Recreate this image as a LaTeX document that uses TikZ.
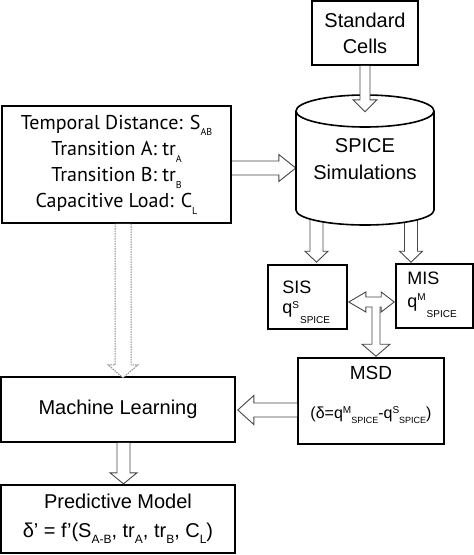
\documentclass[tikz,border=0pt]{standalone}
\usepackage{fontspec}
\setmainfont{Liberation Sans}
\newfontfamily\myr{PT Sans}
\usetikzlibrary{calc}
\pgfdeclarelayer{bg}
\pgfsetlayers{bg,main}
\newcommand\fs[2]{\fontsize{#1}{#2}\selectfont}
\newcommand\subtx[2][-6pt]{\raisebox{#1}{\fs{10}{10}#2}}
\newcommand\suptx[2][6pt]{\raisebox{#1}{\fs{10}{10}#2}}
% block arrow: [style]{from}{to}{half shaft}{half head}{head length}
\newcommand\barrow[6][arr]{%
  \path[#1] let \p1=(#2),\p2=(#3),\n1={atan2(\y2-\y1,\x2-\x1)},\n2={veclen(\x2-\x1,\y2-\y1)} in
   [shift={(\p1)},rotate=\n1]
   (0pt,#4) -- ({\n2-#6},#4) -- ({\n2-#6},#5) -- ({\n2*1pt},0pt) -- ({\n2-#6},-#5) -- ({\n2-#6},-#4) -- (0pt,-#4);}
\begin{document}
\begin{tikzpicture}[x=1pt,y=-1pt,
  box/.style={draw, line width=1.6pt, fill=white, inner sep=0pt, align=center},
  arr/.style={draw=black!72, line width=0.9pt, fill=white, line join=miter},
  dotarr/.style={draw=black!45, dash pattern=on 1.5pt off 1pt, line width=1pt, fill=white, line join=miter},
  cyl/.style={draw, line width=1.6pt, fill=white}]
\useasboundingbox (0,0) rectangle (474,555);

% boxes
\node[box, minimum width=106pt, minimum height=64pt, font=\fs{20}{26}] (std) at (365,33) {Standard\\Cells};
\node[box, minimum width=229pt, minimum height=117pt, font=\myr\fs{20}{26}] (inp) at (116.5,164.5)
  {Temporal Distance: S\subtx{AB}\\Transition A: tr\subtx[-7pt]{A}\\Transition B: tr\subtx[-7pt]{B}\\Capacitive Load: C\subtx[-7pt]{L}};

% cylinder
\coordinate (cyl) at (365,160);
\draw[cyl] ($(cyl)+(-69,-49)$) -- ($(cyl)+(-69,50)$) arc[start angle=180,end angle=360,x radius=69pt,y radius=15pt]
  -- ($(cyl)+(69,-49)$) arc[start angle=0,end angle=180,x radius=69pt,y radius=16pt] -- cycle;
\draw[cyl, fill=none] ($(cyl)+(-69,-49)$) arc[start angle=180,end angle=360,x radius=69pt,y radius=16pt];
\node[font=\fs{20}{27}, align=center] (spice) at (365,159) {SPICE\\Simulations};

\node[box, minimum width=79pt, minimum height=64pt] (sis) at (307.5,297) {};
\node[box, minimum width=77pt, minimum height=64pt] (mis) at (434.5,296) {};
\node[anchor=base west, inner sep=0pt, font=\fs{18}{18}] (sist) at ($(sis.north west)+(15,29)$) {SIS};
\node[anchor=base west, inner sep=0pt, font=\fs{18}{18}] (sisq) at ($(sis.north west)+(15,49)$) {q\suptx[5pt]{S}\subtx[-10pt]{\kern1pt SPICE}};
\node[anchor=base west, inner sep=0pt, font=\fs{18}{18}] (mist) at ($(mis.north west)+(12,21)$) {MIS};
\node[anchor=base west, inner sep=0pt, font=\fs{18}{18}] (misq) at ($(mis.north west)+(12,44)$) {q\suptx[7pt]{M}\subtx[-10pt]{\kern1pt SPICE}};

\node[box, minimum width=146pt, minimum height=86pt] (msd) at (371,401) {};
\node[font=\fs{19}{19}, inner sep=0pt, anchor=base] (msdt) at ($(msd.north)+(0,22)$) {MSD};
\node[font=\fs{16}{16}, inner sep=0pt, anchor=base] (msdf) at ($(msd.north)+(0,61)$)
  {(δ=q\suptx[5pt]{M}\subtx[-5pt]{\fs{9}{9}SPICE}-q\suptx[5pt]{S}\subtx[-5pt]{\fs{9}{9}SPICE})};

\node[box, minimum width=234pt, minimum height=65pt, font=\fs{20}{24}] (ml) at (118,409.5) {Machine Learning};
\node[box, minimum width=234pt, minimum height=68pt, font=\fs{20}{29}] (pm) at (118,519)
  {Predictive Model\\δ' = f'(S\subtx[-6pt]{\fs{12}{12}A-B}, tr\subtx[-6pt]{\fs{12}{12}A}, tr\subtx[-6pt]{\fs{12}{12}B}, C\subtx[-6pt]{\fs{12}{12}L})};

% arrows
\barrow{std.south}{$(std.south)+(0,46)$}{5pt}{12pt}{12pt}
\begin{pgfonlayer}{bg}
\barrow{$(inp.east)+(0,3.5)$}{$(inp.east)+(64,3.5)$}{7pt}{13.5pt}{17pt}
\barrow{$(sis.north)+(9,-60)$}{$(sis.north)+(9,-2)$}{6.5pt}{11.5pt}{11pt}
\barrow{$(mis.north)+(-23.5,-60)$}{$(mis.north)+(-23.5,-1)$}{6.5pt}{11.5pt}{11pt}
\end{pgfonlayer}
\barrow[dotarr]{$(inp.south)+(6.5,0)$}{$(inp.south)+(6.5,154)$}{8pt}{15pt}{13pt}
\barrow{$(msd.west)+(0,9)$}{$(ml.east)+(2,0.5)$}{7pt}{14.5pt}{16pt}
\barrow{$(ml.south)+(5.5,0)$}{$(ml.south)+(5.5,41)$}{6.5pt}{13.5pt}{11pt}
% T-shaped double arrow between SIS, MIS and MSD
\path[arr] let \p1=($(sis.east)+(1,5)$), \p2=($(mis.west)+(-1,6)$), \p3=($(msd.north)+(5,-1)$) in
  (\p1) -- (\x1+17pt,\y1+10pt) -- (\x1+17pt,\y1+5pt) -- (\x2-13pt,\y1+5pt) -- (\x2-13pt,\y1+10pt) -- (\p2)
  -- (\x2-13pt,\y1-10pt) -- (\x2-13pt,\y1-5pt) -- (\x3+4pt,\y1-5pt) -- (\x3+4pt,\y3+12pt) -- (\x3+14pt,\y3+12pt)
  -- (\p3) -- (\x3-14pt,\y3+12pt) -- (\x3-4pt,\y3+12pt) -- (\x3-4pt,\y1-5pt) -- (\x1+17pt,\y1-5pt)
  -- (\x1+17pt,\y1-10pt) -- cycle;
\end{tikzpicture}
\end{document}
